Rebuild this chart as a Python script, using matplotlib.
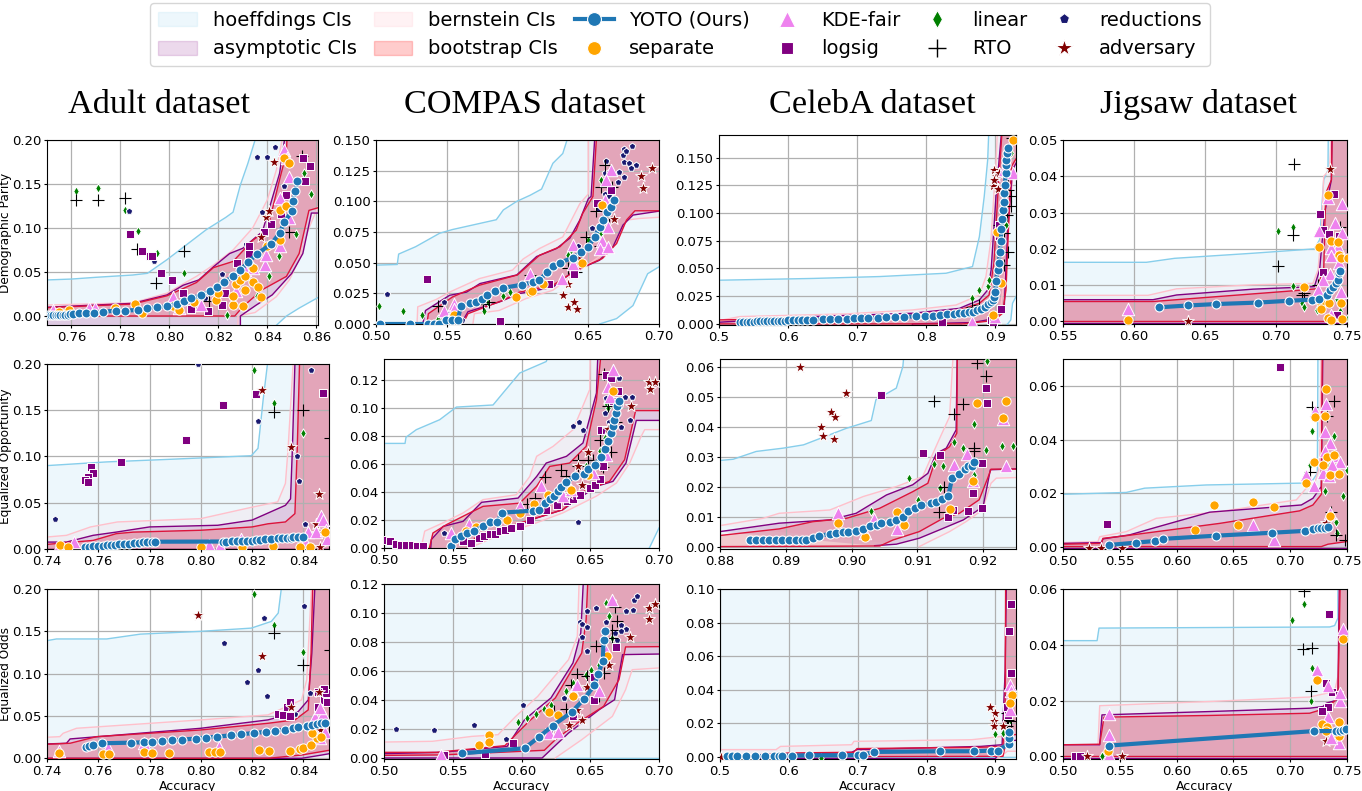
import matplotlib
matplotlib.use('Agg')
import matplotlib.pyplot as plt
from matplotlib.lines import Line2D
from matplotlib.patches import Patch

# ---- Adult / demographic parity
adult_dp_hoef_up = [(.75,.041),(.76,.042),(.77,.044),(.785,.0466),(.791,.0485),(.799,.064),(.807,.081),(.815,.098),(.823,.112),(.826,.118),(.829,.149),(.832,.173),(.835,.2)]
adult_dp_hoef_lo = [(.75,-.02),(.84,-.02),(.8478,0),(.853,.009),(.8607,.021)]
adult_dp_bern_up = [(.75,.0125),(.785,.015),(.799,.026),(.811,.045),(.818,.058),(.826,.075),(.834,.10),(.84,.132),(.8437,.166),(.846,.2)]
adult_dp_bern_lo = [(.75,-.02),(.828,-.02),(.828,0),(.835,.004),(.8437,.022),(.849,.041),(.853,.064),(.857,.10),(.8607,.124)]
adult_dp_asym_up = [(.75,.01),(.785,.0144),(.799,.024),(.8056,.035),(.812,.041),(.818,.056),(.8246,.071),(.83,.077),(.838,.096),(.845,.162),(.847,.2)]
adult_dp_asym_lo = [(.75,-.02),(.829,-.02),(.829,0),(.8355,.0125),(.842,.024),(.85,.0485),(.8545,.071),(.858,.117),(.8607,.117)]
adult_dp_boot_up = [(.75,.0095),(.785,.0136),(.799,.023),(.811,.038),(.818,.055),(.826,.062),(.834,.086),(.84,.098),(.845,.155),(.8478,.185),(.848,.2)]
adult_dp_boot_lo = [(.75,0),(.8267,0),(.83,.0106),(.838,.03),(.8478,.045),(.853,.071),(.857,.12),(.8607,.123)]
adult_dp_yoto = [(.7505,.001),(.7515,.001),(.7525,.0012),(.7535,.0012),(.7545,.0012),(.7555,.0014),(.7565,.0015),(.7575,.0015),(.7585,.0016),(.7595,.0018),(.7605,.002),(.763,.003),(.766,.004),(.769,.004),(.773,.005),(.778,.006),(.782,.006),(.787,.007),(.791,.009),(.795,.01),(.799,.011),(.803,.014),(.806,.017),(.809,.02),(.813,.024),(.8165,.028),(.8195,.033),(.8225,.039),(.826,.045),(.829,.052),(.832,.061),(.8358,.0705),(.8416,.082),(.845,.094),(.847,.107),(.85,.119),(.8505,.131),(.8514,.142),(.8522,.153)]
adult_dp_separate = [(.755,.005),(.759,.007),(.7777,.009),(.786,.014),(.789,.003),(.8015,.011),(.804,.007),(.81,.016),(.819,.018),(.82,.026),(.826,.0125),(.826,.023),(.83,.011),(.827,.036),(.829,.041),(.831,.03),(.831,.045),(.834,.039),(.836,.033),(.834,.054),(.8375,.022),(.84,.079),(.845,.086),(.845,.12),(.8478,.125),(.847,.179),(.849,.174)]
adult_dp_kde = [(.7525,.007),(.767,.009),(.7695,.009),(.8015,.022),(.804,.009),(.813,.0125),(.827,.028),(.831,.052),(.834,.054),(.839,.058),(.8393,.069),(.845,.079),(.845,.134),(.849,.111),(.849,.158),(.847,.189),(.848,.179)]
adult_dp_logsig = [(.784,.093),(.7888,.074),(.792,.0686),(.793,.068),(.7967,.049),(.801,.041),(.8056,.026),(.809,.0076),(.8158,.0057),(.8216,.0125),(.8228,.026),(.8276,.043),(.8276,.06),(.8325,.079),(.8325,.071),(.8385,.096),(.8416,.105),(.8457,.1155),(.8478,.138),(.8555,.153),(.8545,.179),(.8575,.171)]
adult_dp_linear = [(.762,.142),(.771,.145),(.7818,.121),(.787,.0966),(.795,.072),(.806,.0485),(.8237,.001),(.8357,.023),(.8407,.046),(.8448,.0686),(.8516,.093),(.8487,.115),(.8548,.163),(.8577,.139)]
adult_dp_rto = [(.762,.132),(.7707,.132),(.7818,.1345),(.7867,.076),(.7947,.037),(.8058,.074),(.816,.0174),(.8487,.096),(.8543,.182)]
adult_dp_reductions = [(.7835,.119),(.7937,.062),(.811,.019),(.8144,.021),(.8215,.048),(.8314,.082),(.838,.1186),(.8358,.181),(.84,.181),(.843,.192),(.847,.148)]
adult_dp_adversary = [(.8375,.09),(.8395,.112),(.8407,.119),(.8426,.175)]

# ---- COMPAS / demographic parity
compas_dp_hoef_up = [(.5,.048),(.515,.0485),(.516,.057),(.528,.063),(.545,.074),(.554,.077),(.585,.085),(.59,.093),(.5995,.1),(.609,.105),(.617,.11),(.625,.131),(.632,.139),(.635,.15)]
compas_dp_hoef_lo = [(.5,-.01),(.65,-.01),(.658,0),(.67,.0044),(.6816,.015),(.692,.041),(.7,.0466)]
compas_dp_bern_up = [(.529,0),(.5295,.014),(.5425,.02),(.552,.026),(.573,.037),(.5965,.044),(.604,.053),(.6155,.0615),(.632,.071),(.644,.098),(.65,.106),(.65,.15)]
compas_dp_bern_lo = [(.5685,0),(.5695,.0084),(.587,.011),(.606,.0207),(.625,.0275),(.644,.044),(.658,.055),(.67,.0656),(.677,.0847),(.686,.086),(.7,.087)]
compas_dp_asym_up = [(.533,0),(.535,.011),(.552,.0234),(.564,.026),(.5735,.033),(.5995,.04),(.6135,.055),(.6275,.0615),(.637,.07),(.644,.0847),(.65,.102),(.652,.104),(.6545,.15)]
compas_dp_asym_lo = [(.56,0),(.565,.01),(.5873,.018),(.6014,.0248),(.625,.03),(.639,.0425),(.658,.052),(.6675,.063),(.6745,.0806),(.6816,.0888),(.7,.092)]
compas_dp_boot_up = [(.536,0),(.537,.0084),(.554,.022),(.573,.0316),(.6,.04),(.6155,.056),(.63,.063),(.6415,.0765),(.646,.09),(.6533,.104),(.6557,.15)]
compas_dp_boot_lo = [(.5613,0),(.565,.0084),(.5896,.0193),(.6014,.026),(.625,.0316),(.6415,.0438),(.66,.0534),(.67,.0656),(.677,.0847),(.683,.0923),(.7,.0923)]
compas_dp_yoto = [(.503,0),(.524,0),(.537,0),(.541,0),(.5445,0),(.5495,.0035),(.554,.0035),(.5578,.0035),(.56,.0144),(.5665,.0172),(.5708,.018),(.575,.0207),(.5785,.0234),(.5844,.027),(.5896,.0294),(.603,.032),(.611,.034),(.6155,.0357),(.621,.0425),(.625,.047),(.63,.05),(.639,.054),(.645,.0585),(.65,.063),(.6545,.071),(.658,.079),(.6604,.0847),(.6635,.0915),(.6663,.0956),(.668,.101)]
compas_dp_separate = [(.5554,.0076),(.599,.022),(.6085,.026),(.6104,.0267),(.618,.033),(.6458,.05),(.66,.097)]
compas_dp_kde = [(.548,.011),(.555,.0166),(.555,.0125),(.6085,.041),(.6315,.037),(.639,.049),(.639,.064),(.66,.068),(.6585,.0615),(.664,.063),(.664,.079),(.6663,.1255),(.6628,.117),(.6615,.101)]
compas_dp_logsig = [(.536,.037),(.5877,.0027),(.622,.0324),(.64,.0406),(.656,.099),(.6663,.109)]
compas_dp_linear = [(.502,.015),(.519,.011),(.5325,.0076),(.5436,.004),(.576,.0103),(.5795,.018),(.59,.0226),(.595,.0264),(.6125,.037),(.6356,.056),(.638,.06),(.6498,.0683),(.659,.117),(.664,.113),(.667,.108),(.659,.074)]
compas_dp_rto = [(.544,.0144),(.5755,.016),(.58,.018),(.6085,.04),(.636,.046),(.641,.0425),(.6487,.071),(.6585,.0637),(.6557,.092),(.6587,.112),(.662,.13),(.667,.112),(.6645,.087)]
compas_dp_reductions = [(.5075,.0245),(.548,.0177),(.551,.008),(.561,.003),(.6425,.0634),(.6528,.078),(.657,.094),(.6627,.133),(.6615,.123),(.665,.1236),(.671,.1154),(.672,.124),(.6755,.12),(.6755,.132),(.6745,.138),(.675,.143),(.6768,.141),(.681,.145),(.679,.131),(.684,.13),(.68,.127),(.6615,.106),(.665,.104)]
compas_dp_adversary = [(.6325,.024),(.6356,.033),(.6356,.014),(.64,.018),(.642,.012),(.6427,.054),(.668,.0855),(.687,.121),(.689,.111),(.695,.1274)]

# ---- CelebA / demographic parity
celeba_dp_hoef_up = [(.5,.0394),(.636,.041),(.7325,.0427),(.8287,.0457),(.867,.0517),(.877,.0788),(.884,.115),(.889,.148),(.891,.18)]
celeba_dp_hoef_lo = [(.5,-.01),(.9,-.01),(.918,0),(.9225,.0036),(.925,.0186),(.93,.0246)]
celeba_dp_bern_up = [(.5,.003),(.53,.0066),(.684,.009),(.78,.0126),(.843,.017),(.877,.026),(.8865,.0427),(.8937,.0757),(.901,.145),(.9035,.18)]
celeba_dp_bern_lo = [(.5,-.01),(.853,-.01),(.853,0),(.901,.0036),(.908,.0156),(.9155,.0547),(.9225,.115),(.9275,.145),(.93,.149)]
celeba_dp_asym_up = [(.5,.0015),(.636,.0066),(.78,.0096),(.848,.014),(.877,.0216),(.889,.0306),(.894,.0487),(.901,.115),(.91,.18)]
celeba_dp_asym_lo = [(.5,-.01),(.78,-.01),(.78,0),(.867,.0012),(.901,.005),(.913,.0156),(.918,.085),(.925,.139),(.93,.145)]
celeba_dp_boot_up = [(.5,.0036),(.636,.005),(.78,.008),(.848,.0126),(.877,.0186),(.891,.026),(.898,.0547),(.9035,.115),(.9105,.18)]
celeba_dp_boot_lo = [(.5,0),(.853,0),(.898,.003),(.9105,.0096),(.9155,.0306),(.92,.1),(.9235,.142),(.93,.149)]
celeba_dp_yoto = [(.53,.0018),(.535,.0018),(.54,.002),(.545,.002),(.55,.002),(.555,.0022),(.56,.0022),(.565,.0024),(.57,.0025),(.575,.0026),(.58,.0027),(.585,.0028),(.59,.003),(.595,.003),(.6,.0032),(.607,.0034),(.615,.0035),(.62,.0036),(.628,.0037),(.636,.0039),(.65,.0045),(.66,.0046),(.672,.0048),(.685,.0048),(.695,.005),(.705,.0052),(.716,.0054),(.73,.0055),(.742,.0058),(.755,.006),(.768,.0065),(.785,.0068),(.798,.007),(.81,.0075),(.82,.008),(.83,.0085),(.84,.009),(.848,.0095),(.855,.0102),(.862,.0105),(.868,.011),(.874,.0125),(.88,.0135),(.885,.015),(.89,.018),(.894,.0195),(.896,.022),(.898,.024),(.9,.0286),(.901,.039),(.9035,.0487),(.905,.0547),(.9067,.065),(.908,.075),(.909,.0854),(.9097,.0944),(.911,.103),(.912,.11),(.913,.118),(.914,.125),(.915,.136),(.9155,.143),(.916,.148),(.9175,.154),(.918,.159)]
celeba_dp_separate = [(.903,.083),(.908,.037),(.896,.008),(.925,.166)]
celeba_dp_kde = [(.867,.002),(.899,.0066),(.925,.136),(.913,.139)]
celeba_dp_logsig = [(.823,.002),(.894,.0036),(.908,.013),(.896,.002),(.906,.079),(.905,.089)]
celeba_dp_linear = [(.867,.023),(.877,.0306),(.889,.0346),(.8915,.04),(.915,.089),(.9225,.154)]
celeba_dp_rto = [(.867,.0156),(.877,.017),(.905,.089),(.913,.082),(.913,.053),(.918,.065),(.917,.098),(.918,.121),(.924,.168),(.9225,.106),(.9225,.115),(.918,.133)]
celeba_dp_reductions = []
celeba_dp_adversary = [(.898,.139),(.901,.133),(.896,.124),(.9035,.122),(.898,.13),(.906,.136)]

# ---- Jigsaw / demographic parity
jigsaw_dp_hoef_up = [(.55,.0163),(.6087,.0163),(.6286,.0174),(.6838,.0188),(.727,.02),(.7307,.0225),(.732,.03),(.7336,.039),(.7366,.0417),(.737,.06)]
jigsaw_dp_hoef_lo = [(.55,-.002),(.75,-.002)]
jigsaw_dp_bern_up = [(.55,.0072),(.6098,.0072),(.63,.009),(.6838,.0101),(.726,.0105),(.7296,.0142),(.732,.0252),(.7336,.04),(.7377,.0417),(.74,.06)]
jigsaw_dp_bern_lo = [(.55,-.001),(.75,-.001)]
jigsaw_dp_asym_up = [(.55,.006),(.6134,.006),(.63,.0073),(.6838,.0089),(.727,.0096),(.7307,.0142),(.7343,.03),(.739,.039),(.7397,.06)]
jigsaw_dp_asym_lo = [(.55,-.0005),(.75,-.0005)]
jigsaw_dp_boot_up = [(.55,.0055),(.6134,.0055),(.6838,.0076),(.7073,.0083),(.7284,.009),(.7296,.0101),(.7336,.0142),(.7343,.0252),(.735,.0353),(.739,.039),(.74,.06)]
jigsaw_dp_boot_lo = [(.55,0),(.75,0)]
jigsaw_dp_yoto = [(.6176,.0039),(.638,.0044),(.658,.0048),(.687,.0052),(.709,.0057),(.725,.006),(.73,.0062),(.736,.0073),(.7378,.0087),(.74,.0096),(.7425,.0105),(.7437,.0115),(.7444,.0133),(.7453,.0138)]
jigsaw_dp_separate = [(.5958,.0005),(.7197,.0096),(.7315,.0052),(.7315,.0034),(.73,.0205),(.7366,.0349),(.739,.0223),(.7436,.022),(.7447,.0183),(.746,.0174),(.7376,.0052),(.746,.0052),(.7366,.0009),(.739,.0005),(.7466,.0007),(.7507,.0174)]
jigsaw_dp_kde = [(.5958,.0035),(.73,.025),(.7366,.034),(.7466,.0324),(.7413,.027),(.7466,.0243),(.7435,.0206),(.739,.0202),(.739,.018),(.7444,.0162),(.738,.0131),(.733,.0115),(.7456,.008),(.739,.0017),(.7296,.0087)]
jigsaw_dp_logsig = [(.7307,.0295),(.7331,.0252),(.7408,.035),(.7373,.024),(.7444,.0236),(.7331,.0136),(.7427,.0018)]
jigsaw_dp_linear = [(.7014,.0248),(.712,.026),(.712,.0099),(.718,.005),(.7195,.0041),(.729,.0032),(.7432,.0061),(.7453,.0028),(.7507,.0009)]
jigsaw_dp_rto = [(.7124,.0434),(.7014,.0153),(.7122,.0237),(.7185,.0073),(.7195,.0078),(.7296,.0101),(.7453,.0261)]
jigsaw_dp_reductions = []
jigsaw_dp_adversary = [(.638,.0001),(.738,.0419)]

# ---- Adult / equalized opportunity
adult_eo_hoef_up = [(.74,.09),(.7633,.094),(.787,.0967),(.8197,.1007),(.8223,.1087),(.8243,.161),(.826,.2)]
adult_eo_hoef_lo = [(.74,-.002),(.85,-.002)]
adult_eo_bern_up = [(.74,.0127),(.7476,.0145),(.757,.0236),(.7675,.029),(.8,.0326),(.82,.045),(.83,.0507),(.833,.0707),(.834,.107),(.836,.2)]
adult_eo_bern_lo = [(.74,-.001),(.85,-.001)]
adult_eo_asym_up = [(.74,.0072),(.7476,.0072),(.758,.0145),(.767,.018),(.78,.0236),(.8066,.0254),(.82,.031),(.833,.047),(.835,.054),(.8357,.107),(.8367,.2)]
adult_eo_asym_lo = [(.74,-.0005),(.85,-.0005)]
adult_eo_boot_up = [(.74,.0047),(.758,.009),(.767,.0163),(.7737,.018),(.8,.02),(.82,.0236),(.8262,.027),(.833,.029),(.8367,.038),(.8376,.107),(.8385,.2)]
adult_eo_boot_lo = [(.74,0),(.85,0)]
adult_eo_yoto = [(.755,.002),(.7565,.0022),(.758,.0025),(.76,.0028),(.762,.003),(.7635,.0035),(.765,.004),(.7665,.0045),(.768,.005),(.77,.0052),(.772,.0056),(.774,.006),(.776,.0064),(.7775,.0068),(.779,.0072),(.781,.0075),(.782,.0076),(.8085,.0078),(.81,.0078),(.812,.008),(.814,.0082),(.816,.0082),(.818,.0084),(.82,.0088),(.8215,.009),(.823,.0098),(.825,.0102),(.8275,.0104),(.83,.0112),(.8315,.0118),(.8335,.012),(.835,.012),(.836,.0125),(.838,.0125),(.84,.013)]
adult_eo_separate = [(.745,.0036),(.7483,.002),(.8,.002),(.816,.002),(.828,.0025),(.8387,.002),(.8427,.002),(.8483,.018)]
adult_eo_kde = [(.7447,.0025),(.7505,.007),(.8033,.004),(.8076,.0025),(.8157,.011),(.8407,.0072),(.842,.018),(.8469,.0355),(.8475,.031),(.845,.018),(.8487,.02),(.8493,.01)]
adult_eo_logsig = [(.7687,.094),(.757,.0888),(.758,.082),(.756,.078),(.7548,.0743),(.756,.0717),(.7943,.1178),(.8085,.1554),(.8216,.1678),(.8478,.1685)]
adult_eo_linear = [(.8206,.193),(.8287,.1576),(.8397,.125)]
adult_eo_rto = [(.8286,.1475),(.8398,.15),(.8505,.12)]
adult_eo_reductions = [(.743,.032),(.799,.2),(.8224,.138),(.8374,.1),(.8383,.073),(.8431,.194),(.8406,.027),(.8498,.0174)]
adult_eo_adversary = [(.8237,.172),(.8353,.11),(.846,.059),(.845,.0265),(.8455,.0174),(.8465,.002)]

# ---- COMPAS / equalized opportunity
compas_eo_hoef_up = [(.5,.0746),(.5153,.0746),(.516,.079),(.5235,.0844),(.5405,.0915),(.5526,.1005),(.5793,.102),(.5865,.1105),(.5987,.1248),(.618,.133),(.6205,.14)]
compas_eo_hoef_lo = [(.5,-.01),(.68,-.01),(.693,0),(.7,.0143)]
compas_eo_bern_up = [(.527,0),(.5296,.012),(.543,.018),(.5575,.025),(.572,.0345),(.5962,.038),(.606,.051),(.611,.0654),(.623,.0725),(.6375,.0844),(.6496,.113),(.65,.14)]
compas_eo_bern_lo = [(.5623,0),(.5817,.0083),(.611,.018),(.63,.025),(.6545,.037),(.669,.0463),(.6787,.0606),(.687,.0796),(.6896,.0844),(.7,.0844)]
compas_eo_asym_up = [(.534,0),(.5344,.006),(.543,.0154),(.5575,.019),(.571,.0326),(.5975,.0356),(.611,.051),(.618,.0606),(.6327,.0654),(.6447,.0749),(.6545,.1105),(.6556,.14)]
compas_eo_asym_lo = [(.5623,0),(.5647,.0048),(.596,.0154),(.611,.0214),(.63,.0273),(.6545,.044),(.6665,.0475),(.676,.0606),(.6835,.091),(.7,.091)]
compas_eo_boot_up = [(.533,0),(.5356,.0107),(.5453,.0166),(.5623,.025),(.572,.0297),(.5987,.032),(.611,.044),(.6205,.0582),(.635,.0606),(.647,.0725),(.6545,.1057),(.658,.14)]
compas_eo_boot_lo = [(.5623,0),(.566,.007),(.595,.0166),(.606,.02),(.63,.0273),(.647,.0416),(.664,.0475),(.675,.063),(.683,.098),(.7,.098)]
compas_eo_yoto = [(.549,.0012),(.5514,.0067),(.5562,.0088),(.5606,.0107),(.5652,.0124),(.572,.0154),(.5768,.0183),(.5824,.0185),(.5856,.0252),(.608,.0266),(.6125,.0273),(.6168,.032),(.6205,.0352),(.6236,.0368),(.6265,.0404),(.629,.0435),(.632,.047),(.6387,.051),(.6452,.053),(.6484,.0566),(.6532,.0594),(.658,.0649),(.661,.0708),(.6629,.0765),(.6653,.082),(.6665,.0872),(.667,.0915),(.6685,.0962),(.6695,.101),(.6706,.105)]
compas_eo_separate = [(.5594,.012),(.5667,.015),(.5895,.0197),(.5987,.025),(.609,.0316),(.6193,.038),(.6362,.0416),(.648,.0523),(.6665,.1117)]
compas_eo_kde = [(.549,.0107),(.5616,.0173),(.5987,.0297),(.6144,.0444),(.6302,.0368),(.636,.0416),(.652,.0535),(.6617,.0665),(.663,.115),(.6665,.1267),(.664,.108)]
compas_eo_logsig = [(.5012,.0055),(.504,.0048),(.5085,.0029),(.512,.0024),(.5158,.0021),(.52,.0021),(.524,.0017),(.5284,.0012),(.5575,.0048),(.5635,.0036),(.569,.0071),(.5725,.0083),(.5768,.01),(.5805,.0102),(.584,.0119),(.5878,.0131),(.592,.0143),(.5987,.0154),(.606,.02),(.618,.0273),(.6258,.0304),(.633,.0333),(.6375,.035),(.6423,.038),(.6496,.0428),(.6532,.045),(.6568,.0494),(.6593,.0582),(.658,.0844),(.6617,.0844),(.6665,.1046),(.67,.1117),(.6617,.1236),(.6648,.1212)]
compas_eo_linear = [(.5975,.025),(.6096,.0304),(.647,.0582),(.6568,.0689),(.6605,.0784),(.6612,.1034),(.663,.0998)]
compas_eo_rto = [(.604,.0316),(.61,.0356),(.6173,.0504),(.629,.0554),(.6326,.051),(.641,.0582),(.641,.063),(.6484,.0625),(.652,.063),(.658,.0594),(.6593,.0577),(.6653,.0682),(.6568,.0768),(.66,.1243),(.663,.101),(.669,.0896)]
compas_eo_reductions = [(.5434,.0107),(.5628,.0024),(.641,.0188),(.6375,.0872),(.642,.0896),(.6447,.0844),(.6709,.1212),(.675,.1074),(.68,.1074),(.6787,.0915),(.6726,.0863),(.6617,.107),(.6605,.0962),(.6714,.1022),(.6636,.0896)]
compas_eo_adversary = [(.6345,.0387),(.644,.0447),(.641,.0582),(.648,.0684),(.6627,.085),(.6794,.1015),(.6932,.1136),(.6925,.1184),(.697,.1184)]

# ---- CelebA / equalized opportunity
celeba_eo_hoef_up = [(.88,.0287),(.882,.0291),(.8855,.0317),(.8896,.0328),(.8927,.0339),(.8992,.0394),(.903,.042),(.9037,.0489),(.9068,.0528),(.9078,.06),(.9082,.07)]
celeba_eo_hoef_lo = [(.88,-.002),(.925,-.002)]
celeba_eo_bern_up = [(.88,.007),(.8865,.0094),(.889,.0111),(.8967,.0122),(.9018,.0167),(.9068,.02),(.9108,.0233),(.9133,.0356),(.9149,.0433),(.9156,.07)]
celeba_eo_bern_lo = [(.9103,0),(.9123,.0022),(.9149,.005),(.9174,.0083),(.9199,.0122),(.9212,.0211),(.922,.0228),(.925,.023)]
celeba_eo_asym_up = [(.88,.005),(.889,.0078),(.8967,.0089),(.9007,.0111),(.9053,.0172),(.9093,.0206),(.9116,.0244),(.9129,.0311),(.9144,.0328),(.9159,.0389),(.9161,.07)]
celeba_eo_asym_lo = [(.9035,.0003),(.9068,.0008),(.9103,.0028),(.9134,.0056),(.917,.0089),(.92,.0133),(.9211,.0256),(.925,.0259)]
celeba_eo_boot_up = [(.88,.0037),(.889,.0059),(.8941,.0083),(.8992,.0094),(.9043,.0128),(.9093,.0183),(.9116,.0211),(.9129,.03),(.9149,.0333),(.916,.0378),(.9161,.07)]
celeba_eo_boot_lo = [(.88,0),(.9043,.0002),(.9063,.0022),(.9103,.005),(.9139,.0094),(.9164,.0111),(.9194,.0156),(.9207,.0228),(.9212,.0258),(.925,.0258)]
celeba_eo_yoto = [(.8845,.0022),(.8855,.0022),(.8865,.0022),(.8875,.0022),(.8885,.0022),(.8895,.0022),(.8905,.0022),(.8915,.0022),(.8925,.0022),(.893,.0022),(.8941,.0028),(.8951,.0036),(.8967,.0042),(.8977,.0044),(.8987,.0048),(.8994,.005),(.9007,.0053),(.9018,.0058),(.9028,.0067),(.9038,.0072),(.9045,.0078),(.9058,.0081),(.9068,.0089),(.9078,.01),(.9086,.0117),(.9096,.013),(.9106,.0137),(.9121,.0144),(.9129,.015),(.9137,.0159),(.9147,.0169),(.9153,.0229),(.9164,.0242),(.9172,.0258),(.9177,.0267),(.9183,.0269),(.9186,.0281)]
celeba_eo_separate = [(.8979,.008),(.902,.0033),(.9069,.0116),(.9079,.0072),(.9149,.0126),(.919,.048),(.9235,.0484),(.923,.0428),(.9185,.0217)]
celeba_eo_kde = [(.8979,.0111),(.902,.0044),(.9034,.0091),(.9069,.0058),(.9155,.0272),(.9175,.0308),(.9185,.022),(.923,.0426),(.9235,.0267)]
celeba_eo_logsig = [(.9045,.0504),(.9108,.0311),(.9135,.0306),(.9146,.0097),(.9154,.0122),(.9177,.0117),(.9185,.018),(.9198,.0278),(.9198,.0127),(.9205,.0528),(.9206,.0478)]
celeba_eo_linear = [(.903,.0119),(.9087,.0228),(.9101,.0156),(.9126,.0276),(.9135,.0194),(.9139,.0267),(.9156,.0347),(.917,.0328),(.9186,.0239),(.9186,.0409),(.9204,.0322),(.9229,.0336),(.9246,.0336),(.9206,.062)]
celeba_eo_rto = [(.9133,.0114),(.914,.02),(.9126,.0486),(.9156,.0441),(.917,.0476),(.9186,.0328),(.9186,.0317),(.9191,.0613),(.9205,.057)]
celeba_eo_reductions = []
celeba_eo_adversary = [(.8922,.0598),(.8992,.0511),(.8969,.0449),(.8975,.0431),(.8954,.04),(.8956,.0367),(.8974,.0358)]

# ---- Jigsaw / equalized opportunity
jigsaw_eo_hoef_up = [(.5,.0196),(.5323,.02),(.5557,.0203),(.5719,.0219),(.6262,.0231),(.7113,.0238),(.72,.025),(.7239,.0275),(.7245,.08)]
jigsaw_eo_hoef_lo = [(.5,-.002),(.75,-.002)]
jigsaw_eo_bern_up = [(.5,.0015),(.5308,.0019),(.5323,.0037),(.5557,.0056),(.5821,.0106),(.6379,.0131),(.7054,.0175),(.7142,.0219),(.7215,.0237),(.7259,.03),(.7274,.08)]
jigsaw_eo_bern_lo = [(.5,-.001),(.75,-.001)]
jigsaw_eo_asym_up = [(.5,.0012),(.5337,.0015),(.5352,.0029),(.5587,.0044),(.5792,.0069),(.6291,.0129),(.7098,.0156),(.72,.0181),(.7274,.0225),(.7289,.08)]
jigsaw_eo_asym_lo = [(.5,-.0005),(.75,-.0005)]
jigsaw_eo_boot_up = [(.5,.0009),(.5337,.0012),(.5352,.0031),(.5557,.0041),(.6379,.0087),(.7083,.0134),(.72,.0156),(.7274,.0196),(.7283,.08)]
jigsaw_eo_boot_lo = [(.5,0),(.7274,0),(.7333,.0009),(.75,.0019)]
jigsaw_eo_yoto = [(.5402,.0006),(.5646,.0015),(.5807,.0021),(.588,.0029),(.635,.0041),(.6843,.0052),(.7133,.0059),(.72,.0066),(.7245,.0071),(.7274,.0071),(.7304,.0071),(.7333,.0072)]
jigsaw_eo_separate = [(.6165,.0061),(.6329,.0156),(.6543,.0081),(.6672,.0167),(.686,.015),(.7136,.024),(.7206,.0318),(.7221,.0486),(.7318,.059),(.7303,.0488),(.7324,.0334),(.729,.0306),(.7347,.0269),(.743,.0272),(.7383,.0344),(.7353,.0115)]
jigsaw_eo_kde = [(.6672,.0081),(.686,.0025),(.7136,.0269),(.7206,.0228),(.722,.0509),(.7318,.0535),(.7303,.0431),(.7347,.039),(.7309,.036),(.7383,.0341),(.7435,.0316),(.737,.0304),(.7289,.0275),(.7339,.0263),(.7353,.0125)]
jigsaw_eo_logsig = [(.6913,.0672),(.539,.0086)]
jigsaw_eo_linear = [(.7195,.0435),(.7177,.0305),(.7303,.0209),(.733,.03),(.7353,.0321),(.7388,.0413),(.7406,.0094),(.7415,.005),(.7465,.0188),(.75,.0288)]
jigsaw_eo_rto = [(.7194,.0523),(.7327,.0491),(.7388,.0546),(.7177,.0278),(.7356,.0129),(.7406,.0044),(.748,.0025)]
jigsaw_eo_reductions = []
jigsaw_eo_adversary = [(.5226,-.0006),(.5332,-.0006),(.5519,-.0006),(.7318,.0088)]

# ---- Adult / equalized odds
adult_eodds_hoef_up = [(.74,.139),(.7437,.141),(.7633,.141),(.7764,.1467),(.8,.15),(.8197,.1538),(.8275,.1617),(.8302,.1716),(.8318,.21)]
adult_eodds_hoef_lo = [(.74,-.002),(.85,-.002)]
adult_eodds_bern_up = [(.74,.0249),(.745,.0256),(.7463,.0296),(.7515,.0355),(.8,.0454),(.8262,.0513),(.8393,.069),(.8413,.0927),(.8433,.21)]
adult_eodds_bern_lo = [(.74,-.001),(.85,-.001)]
adult_eodds_asym_up = [(.74,.017),(.7476,.0178),(.749,.0229),(.8,.0355),(.8262,.0454),(.838,.0552),(.8419,.069),(.8433,.1243),(.8446,.21)]
adult_eodds_asym_lo = [(.74,0),(.8393,0),(.8472,.0039),(.8509,.0059)]
adult_eodds_boot_up = [(.74,.0166),(.749,.0178),(.7593,.0256),(.8,.0335),(.8262,.0414),(.8367,.0454),(.8419,.0572),(.843,.1243),(.8437,.21)]
adult_eodds_boot_lo = [(.74,0),(.8262,0),(.8393,.0039),(.8509,.0099)]
adult_eodds_yoto = [(.7551,.0138),(.7564,.015),(.758,.0158),(.7616,.0178),(.7727,.0185),(.7777,.0189),(.781,.0193),(.785,.0205),(.7889,.0213),(.7925,.0221),(.798,.0233),(.8019,.0245),(.8065,.0256),(.8117,.0272),(.8157,.0284),(.8209,.03),(.8253,.0312),(.8288,.0327),(.8328,.0339),(.836,.0355),(.838,.0371),(.8413,.0387),(.8433,.0398),(.8452,.0406),(.847,.0414),(.8485,.0418)]
adult_eodds_separate = [(.7447,.0059),(.762,.0051),(.7642,.0051),(.778,.0071),(.7811,.0067),(.7875,.0067),(.8033,.0071),(.8056,.0071),(.8075,.0079),(.8227,.0099),(.8266,.0087),(.8347,.0087),(.8387,.011),(.84,.0126),(.843,.0158),(.8452,.0237),(.8433,.0296),(.847,.0256)]
adult_eodds_kde = [(.7447,.0087),(.7637,.0126),(.778,.0178),(.8072,.0138),(.8456,.0256),(.8446,.0493),(.8478,.0525),(.8463,.0592),(.8485,.0316),(.8465,.0237)]
adult_eodds_logsig = [(.8302,.0525),(.8322,.0513),(.8348,.0505),(.8335,.0604),(.8348,.0663),(.8458,.0611),(.8479,.069),(.8489,.0769),(.8479,.0817),(.8459,.0789),(.8492,.0663)]
adult_eodds_linear = [(.8206,.194),(.8287,.1578),(.8399,.1254)]
adult_eodds_rto = [(.8287,.148),(.8397,.1097),(.8505,.128)]
adult_eodds_reductions = [(.8091,.1357),(.8248,.1657),(.8404,.1803),(.8182,.0907),(.8224,.1045),(.8257,.0738),(.8424,.0777),(.8367,.0525)]
adult_eodds_adversary = [(.7988,.1696),(.8239,.1211),(.8353,.0611),(.846,.0789),(.8465,.0335)]

# ---- COMPAS / equalized odds
compas_eodds_hoef_up = [(.5,.2),(.7,.2)]
compas_eodds_hoef_lo = [(.5,-.01),(.6246,-.01),(.6246,0),(.7,0)]
compas_eodds_bern_up = [(.5,.011),(.5351,.0115),(.5639,.0149),(.583,.0161),(.5958,.0287),(.6118,.0425),(.6342,.0678),(.6406,.0839),(.6422,.13)]
compas_eodds_bern_lo = [(.5,-.003),(.6246,-.003),(.6246,0),(.6438,.0126),(.6661,.0287),(.6757,.0471),(.6805,.0609),(.7,.0621)]
compas_eodds_asym_up = [(.5,.003),(.5415,.0039),(.5895,.008),(.6022,.0264),(.6214,.0414),(.6374,.0655),(.6431,.0862),(.6454,.13)]
compas_eodds_asym_lo = [(.5,0),(.615,0),(.6342,.0172),(.6565,.0333),(.6677,.0402),(.6735,.0713),(.7,.0717)]
compas_eodds_boot_up = [(.5,.0039),(.5383,.0039),(.5879,.0085),(.6054,.0253),(.6246,.0414),(.6438,.0724),(.647,.0954),(.6486,.13)]
compas_eodds_boot_lo = [(.5,.0018),(.5415,.0021),(.6166,.0053),(.6246,.0126),(.6406,.0241),(.6597,.0356),(.6709,.054),(.6757,.0766),(.7,.0768)]
compas_eodds_yoto = [(.5565,.0032),(.6022,.0067),(.6125,.0143),(.6227,.0223),(.6364,.0315),(.6457,.0409),(.653,.0501),(.6559,.0582),(.6591,.0667),(.6597,.0811),(.6604,.0874)]
compas_eodds_separate = [(.569,.0087),(.5767,.0161),(.5767,.0113),(.6198,.0315),(.6268,.0294),(.6374,.0425),(.6623,.0706)]
compas_eodds_kde = [(.5415,.0023),(.6198,.0172),(.6268,.0177),(.6374,.046),(.64,.0506),(.6565,.046),(.6613,.0736),(.6661,.1092)]
compas_eodds_logsig = [(.5438,.0023),(.5735,.003),(.5936,.0103),(.6198,.0179),(.6374,.0287),(.6527,.0398),(.6524,.0559),(.6684,.0766)]
compas_eodds_linear = [(.5971,.0246),(.6042,.0276),(.6102,.0306),(.6166,.0338),(.6214,.0368),(.6326,.046),(.6374,.0517),(.647,.0575),(.6502,.0609),(.6565,.0644),(.6613,.1069),(.6636,.0977),(.6661,.0828)]
compas_eodds_rto = [(.6236,.0322),(.6326,.034),(.6358,.0506),(.6406,.0582),(.6476,.0568),(.6597,.0586),(.6565,.043),(.654,.077),(.6677,.1041),(.6693,.0943),(.6655,.0885),(.6655,.0828)]
compas_eodds_reductions = [(.5089,.02),(.5367,.0193),(.5658,.023),(.5888,.0129),(.6012,.0368),(.631,.0414),(.6476,.1011),(.654,.1034),(.6422,.0936),(.6438,.0924),(.6479,.0903),(.6438,.0832),(.6476,.0736),(.6613,.0936),(.6668,.108),(.6757,.1011),(.6811,.1023),(.682,.1087),(.6837,.1115),(.6725,.092),(.6757,.089),(.6677,.0862),(.6725,.0874),(.6693,.0811)]
compas_eodds_adversary = [(.6348,.023),(.6438,.0264),(.64,.0329),(.6476,.0487),(.6636,.0644),(.6789,.0832),(.6927,.0961),(.6927,.1034),(.6968,.1062)]

# ---- CelebA / equalized odds
celeba_eodds_hoef_up = [(.5,.2),(.93,.2)]
celeba_eodds_hoef_lo = [(.5,0),(.93,0)]
celeba_eodds_bern_up = [(.5,.0044),(.5814,.0044),(.5879,.0063),(.6913,.0073),(.6946,.0093),(.8659,.0103),(.911,.0123),(.9143,.052),(.9156,.11)]
celeba_eodds_bern_lo = [(.5,-.002),(.9,-.002),(.9175,.0034),(.93,.0034)]
celeba_eodds_asym_up = [(.5,0),(.6008,.0014),(.6913,.0028),(.6991,.0044),(.8788,.0063),(.9098,.0073),(.9143,.052),(.9162,.11)]
celeba_eodds_asym_lo = [(.5,-.001),(.9,-.001),(.9175,.0099),(.93,.0099)]
celeba_eodds_boot_up = [(.5,0),(.6008,.0024),(.6946,.0028),(.6991,.005),(.8788,.0058),(.9111,.0063),(.9143,.0321),(.915,.11)]
celeba_eodds_boot_lo = [(.5,0),(.9111,.0004),(.9175,.0133),(.93,.0133)]
celeba_eodds_yoto = [(.5103,.0003),(.5168,.0003),(.5246,.0004),(.5375,.0004),(.5505,.0005),(.5647,.0005),(.5778,.0006),(.586,.0007),(.5905,.0008),(.604,.0008),(.63,.001),(.677,.001),(.701,.0012),(.7081,.0014),(.7236,.003),(.8193,.0034),(.8697,.0034),(.893,.0038),(.9033,.0038),(.9195,.0079),(.9202,.0113),(.9202,.0147)]
celeba_eodds_separate = [(.924,.037),(.9208,.032)]
celeba_eodds_kde = [(.9208,.043),(.9228,.039),(.9208,.028)]
celeba_eodds_logsig = [(.9221,.0911),(.9202,.075),(.9221,.05),(.9175,.03),(.9188,.0252)]
celeba_eodds_linear = [(.9,.0139),(.9111,.0143),(.9208,.0282),(.924,.0341),(.9208,.0222),(.6461,-.0005)]
celeba_eodds_rto = [(.9208,.0411),(.9221,.0371),(.9253,.0377),(.9175,.0262),(.9188,.0222),(.9221,.0212),(.9175,.0183)]
celeba_eodds_reductions = []
celeba_eodds_adversary = [(.8923,.03),(.9,.0262),(.8982,.0216),(.8982,.0187),(.9111,.0183),(.5013,0)]

# ---- Jigsaw / equalized odds
jigsaw_eodds_hoef_up = [(.5,.0415),(.53,.0415),(.5317,.046),(.7347,.0464),(.7391,.0469),(.742,.0496),(.742,.07)]
jigsaw_eodds_hoef_lo = [(.5,-.002),(.75,-.002)]
jigsaw_eodds_bern_up = [(.5,.0042),(.5308,.0042),(.5323,.0182),(.6291,.0197),(.7171,.0213),(.7391,.0233),(.742,.0287),(.7435,.07)]
jigsaw_eodds_bern_lo = [(.5,-.001),(.75,-.001)]
jigsaw_eodds_asym_up = [(.5,.0042),(.5323,.0042),(.5343,.0149),(.6291,.0161),(.7171,.0173),(.7289,.0179),(.7318,.0191),(.742,.0203),(.7435,.07)]
jigsaw_eodds_asym_lo = [(.5,-.0005),(.75,-.0005)]
jigsaw_eodds_boot_up = [(.5,.0042),(.5323,.0044),(.5361,.0141),(.6291,.0147),(.7171,.0155),(.7318,.0173),(.742,.0209),(.7444,.07)]
jigsaw_eodds_boot_lo = [(.5,0),(.75,0)]
jigsaw_eodds_yoto = [(.5402,.0039),(.7207,.0091),(.7406,.0091),(.7435,.0093),(.7465,.0096),(.7494,.0098)]
jigsaw_eodds_separate = [(.5396,.0018),(.7283,.0116),(.7324,.0105),(.7318,.009),(.7427,.0075),(.7427,.0125),(.7233,.0275),(.7465,.0422)]
jigsaw_eodds_kde = [(.5402,.0152),(.5402,.0078),(.5402,.0006),(.7427,.0048),(.7362,.0066),(.7333,.014),(.7233,.0311),(.7333,.0251),(.7435,.0197),(.7435,.0227),(.7465,.0458)]
jigsaw_eodds_logsig = [(.5109,0),(.5153,0),(.7344,.051),(.7312,.0265),(.7371,.0231),(.743,.0221),(.7333,.0177),(.728,.0163)]
jigsaw_eodds_linear = [(.7016,.0489),(.7121,.0546),(.7195,.0318),(.718,.02),(.5346,0)]
jigsaw_eodds_rto = [(.7119,.0592),(.7116,.0385),(.7195,.0388),(.718,.0235)]
jigsaw_eodds_reductions = []
jigsaw_eodds_adversary = [(.5214,0),(.5522,0),(.7318,.0056)]

dataset_names = ['Adult dataset', 'COMPAS dataset', 'CelebA dataset', 'Jigsaw dataset']
row_labels = ['Demographic Parity', 'Equalized Opportunity', 'Equalized Odds']

W, H = 1362, 791
fig = plt.figure(figsize = (W / 100, H / 100), dpi = 100)
plt.rcParams['font.size'] = 9

def add_box(l, r, t, b):
    return fig.add_axes([l / W, 1 - b / H, (r - l) / W, (b - t) / H])

# name, pixel box, xlim, ylim, xticks, yticks, x format, y format
panels = [
    ('adult_dp', (47, 318, 140, 325), (.75, .8607), (-.0102, .2), [.76, .78, .80, .82, .84, .86], [0, .05, .1, .15, .2], '%.2f', '%.2f'),
    ('compas_dp', (376, 659, 140, 324), (.5, .7), (0, .15), [.5, .55, .6, .65, .7], [0, .025, .05, .075, .1, .125, .15], '%.2f', '%.3f'),
    ('celeba_dp', (719, 1016, 135, 325), (.5, .93), (-.001, .1704), [.5, .6, .7, .8, .9], [0, .025, .05, .075, .1, .125, .15], '%.1f', '%.3f'),
    ('jigsaw_dp', (1063, 1347, 140, 324), (.55, .75), (-.0007, .05), [.55, .6, .65, .7, .75], [0, .01, .02, .03, .04, .05], '%.2f', '%.2f'),
    ('adult_eo', (47, 329, 364, 549), (.74, .85), (-.0003, .2), [.74, .76, .78, .8, .82, .84], [0, .05, .1, .15, .2], '%.2f', '%.2f'),
    ('compas_eo', (384, 659, 359, 548), (.5, .7), (0, .1348), [.5, .55, .6, .65, .7], [0, .02, .04, .06, .08, .1, .12], '%.2f', '%.2f'),
    ('celeba_eo', (720, 1016, 359, 549), (.88, .925), (-.0008, .0625), [.88, .89, .9, .91, .92], [0, .01, .02, .03, .04, .05, .06], '%.2f', '%.2f'),
    ('jigsaw_eo', (1063, 1347, 359, 549), (.5, .75), (-.0009, .0703), [.5, .55, .6, .65, .7, .75], [0, .02, .04, .06], '%.2f', '%.2f'),
    ('adult_eodds', (47, 329, 589, 759), (.74, .85), (-.0008, .2), [.74, .76, .78, .8, .82, .84], [0, .05, .1, .15, .2], '%.2f', '%.2f'),
    ('compas_eodds', (384, 659, 584, 759), (.5, .7), (-.0007, .12), [.5, .55, .6, .65, .7], [0, .02, .04, .06, .08, .1, .12], '%.2f', '%.2f'),
    ('celeba_eodds', (720, 1016, 589, 759), (.5, .93), (-.0012, .1), [.5, .6, .7, .8, .9], [0, .02, .04, .06, .08, .1], '%.1f', '%.2f'),
    ('jigsaw_eodds', (1063, 1347, 589, 759), (.5, .75), (-.0009, .06), [.5, .55, .6, .65, .7, .75], [0, .02, .04, .06], '%.2f', '%.2f'),
]

# line colour, fill colour, fill alpha
ci_styles = [('hoef', 'skyblue', 'skyblue', .15), ('bern', 'pink', 'pink', .15), ('asym', 'purple', 'purple', .15), ('boot', 'crimson', 'red', .18)]

# colour, marker, size, zorder
marks = [('linear', 'green', 'd', 22, 3.2),
         ('reductions', 'midnightblue', 'p', 24, 3.3),
         ('rto', 'black', '+', 70, 3.4),
         ('logsig', 'purple', 's', 32, 3.5),
         ('adversary', 'maroon', '*', 80, 3.6),
         ('kde', 'violet', '^', 80, 3.7),
         ('separate', 'orange', 'o', 45, 3.8)]

def draw_ci(ax, up, lo, line_color, fill_color, alpha):
    far_x, far_y = ax.get_xlim()[1] + 1, ax.get_ylim()[1] + 1
    poly = up + [(far_x, far_y)] + lo[::-1]
    ax.fill([p[0] for p in poly], [p[1] for p in poly], color = fill_color, alpha = alpha, lw = 0, zorder = 1)
    ax.plot([p[0] for p in up], [p[1] for p in up], color = line_color, lw = 1, zorder = 2)
    ax.plot([p[0] for p in lo], [p[1] for p in lo], color = line_color, lw = 1, zorder = 2)

for i, (name, box, xlim, ylim, xticks, yticks, xfmt, yfmt) in enumerate(panels):
    ax = add_box(*box)
    ax.set_xlim(*xlim)
    ax.set_ylim(*ylim)
    ax.grid(True, color = '#b0b0b0', lw = .9, zorder = 1.5)
    for key, line_color, fill_color, alpha in ci_styles:
        draw_ci(ax, globals()[name + '_' + key + '_up'], globals()[name + '_' + key + '_lo'], line_color, fill_color, alpha)

    for key, color, marker, size, z in marks:
        pts = globals()[name + '_' + key]
        if not pts:
            continue
        if marker == '+':
            ax.scatter([p[0] for p in pts], [p[1] for p in pts], c = color, marker = marker, s = size, lw = .8, zorder = z)
        else:
            ax.scatter([p[0] for p in pts], [p[1] for p in pts], c = color, marker = marker, s = size, edgecolors = 'white', linewidths = .7, zorder = z)

    yoto = globals()[name + '_yoto']
    ax.plot([p[0] for p in yoto], [p[1] for p in yoto], color = 'tab:blue', lw = 3, zorder = 4)
    ax.scatter([p[0] for p in yoto], [p[1] for p in yoto], c = 'tab:blue', s = 42, edgecolors = 'white', linewidths = .8, zorder = 4.1)

    ax.set_xticks(xticks)
    ax.set_yticks(yticks)
    ax.set_xticklabels([xfmt % v for v in xticks], fontsize = 9.5)
    ax.set_yticklabels([yfmt % v for v in yticks], fontsize = 9.5)
    ax.tick_params(length = 2.5, pad = 1.5)
    if i % 4 == 0:
        ax.set_ylabel(row_labels[i // 4], fontsize = 8.7)
        # right edge of the rotated text about 12 px from the figure edge
        ax.yaxis.set_label_coords((12 - box[0]) / (box[1] - box[0]), .5)
    if i >= 8:
        ax.set_xlabel('Accuracy', fontsize = 9, labelpad = 2)

title_x = [159, 525, 872, 1199]
for name, x in zip(dataset_names, title_x):
    fig.text(x / W, 1 - 113 / H, name, family = 'Liberation Serif', fontsize = 24.7, ha = 'center', va = 'baseline')

handles = [Patch(facecolor = 'skyblue', edgecolor = 'skyblue', alpha = .15),
           Patch(facecolor = 'purple', edgecolor = 'purple', alpha = .15),
           Patch(facecolor = 'pink', edgecolor = 'pink', alpha = .2),
           Patch(facecolor = 'red', edgecolor = 'red', alpha = .2),
           Line2D([], [], color = 'tab:blue', lw = 3, marker = 'o', ms = 10, mec = 'white', mew = .8),
           Line2D([], [], color = 'orange', lw = 0, marker = 'o', ms = 10, mec = 'white', mew = .8),
           Line2D([], [], color = 'violet', lw = 0, marker = '^', ms = 12, mec = 'white', mew = .8),
           Line2D([], [], color = 'purple', lw = 0, marker = 's', ms = 8, mec = 'white', mew = .8),
           Line2D([], [], color = 'green', lw = 0, marker = 'd', ms = 9, mec = 'white', mew = .8),
           Line2D([], [], color = 'black', lw = 0, marker = '+', ms = 13, mew = 1),
           Line2D([], [], color = 'midnightblue', lw = 0, marker = 'p', ms = 8, mec = 'white', mew = .8),
           Line2D([], [], color = 'maroon', lw = 0, marker = '*', ms = 13, mec = 'white', mew = .8)]
labels = ['hoeffdings CIs', 'asymptotic CIs', 'bernstein CIs', 'bootstrap CIs', 'YOTO (Ours)', 'separate',
          'KDE-fair', 'logsig', 'linear', 'RTO', 'reductions', 'adversary']
fig.legend(handles, labels, loc = 'upper center', bbox_to_anchor = (680 / W, 1 - 3 / H), ncol = 6, fontsize = 14,
           columnspacing = .88, handletextpad = .8, labelspacing = .5, borderaxespad = 0)

fig.savefig('out.png', dpi = 100)
